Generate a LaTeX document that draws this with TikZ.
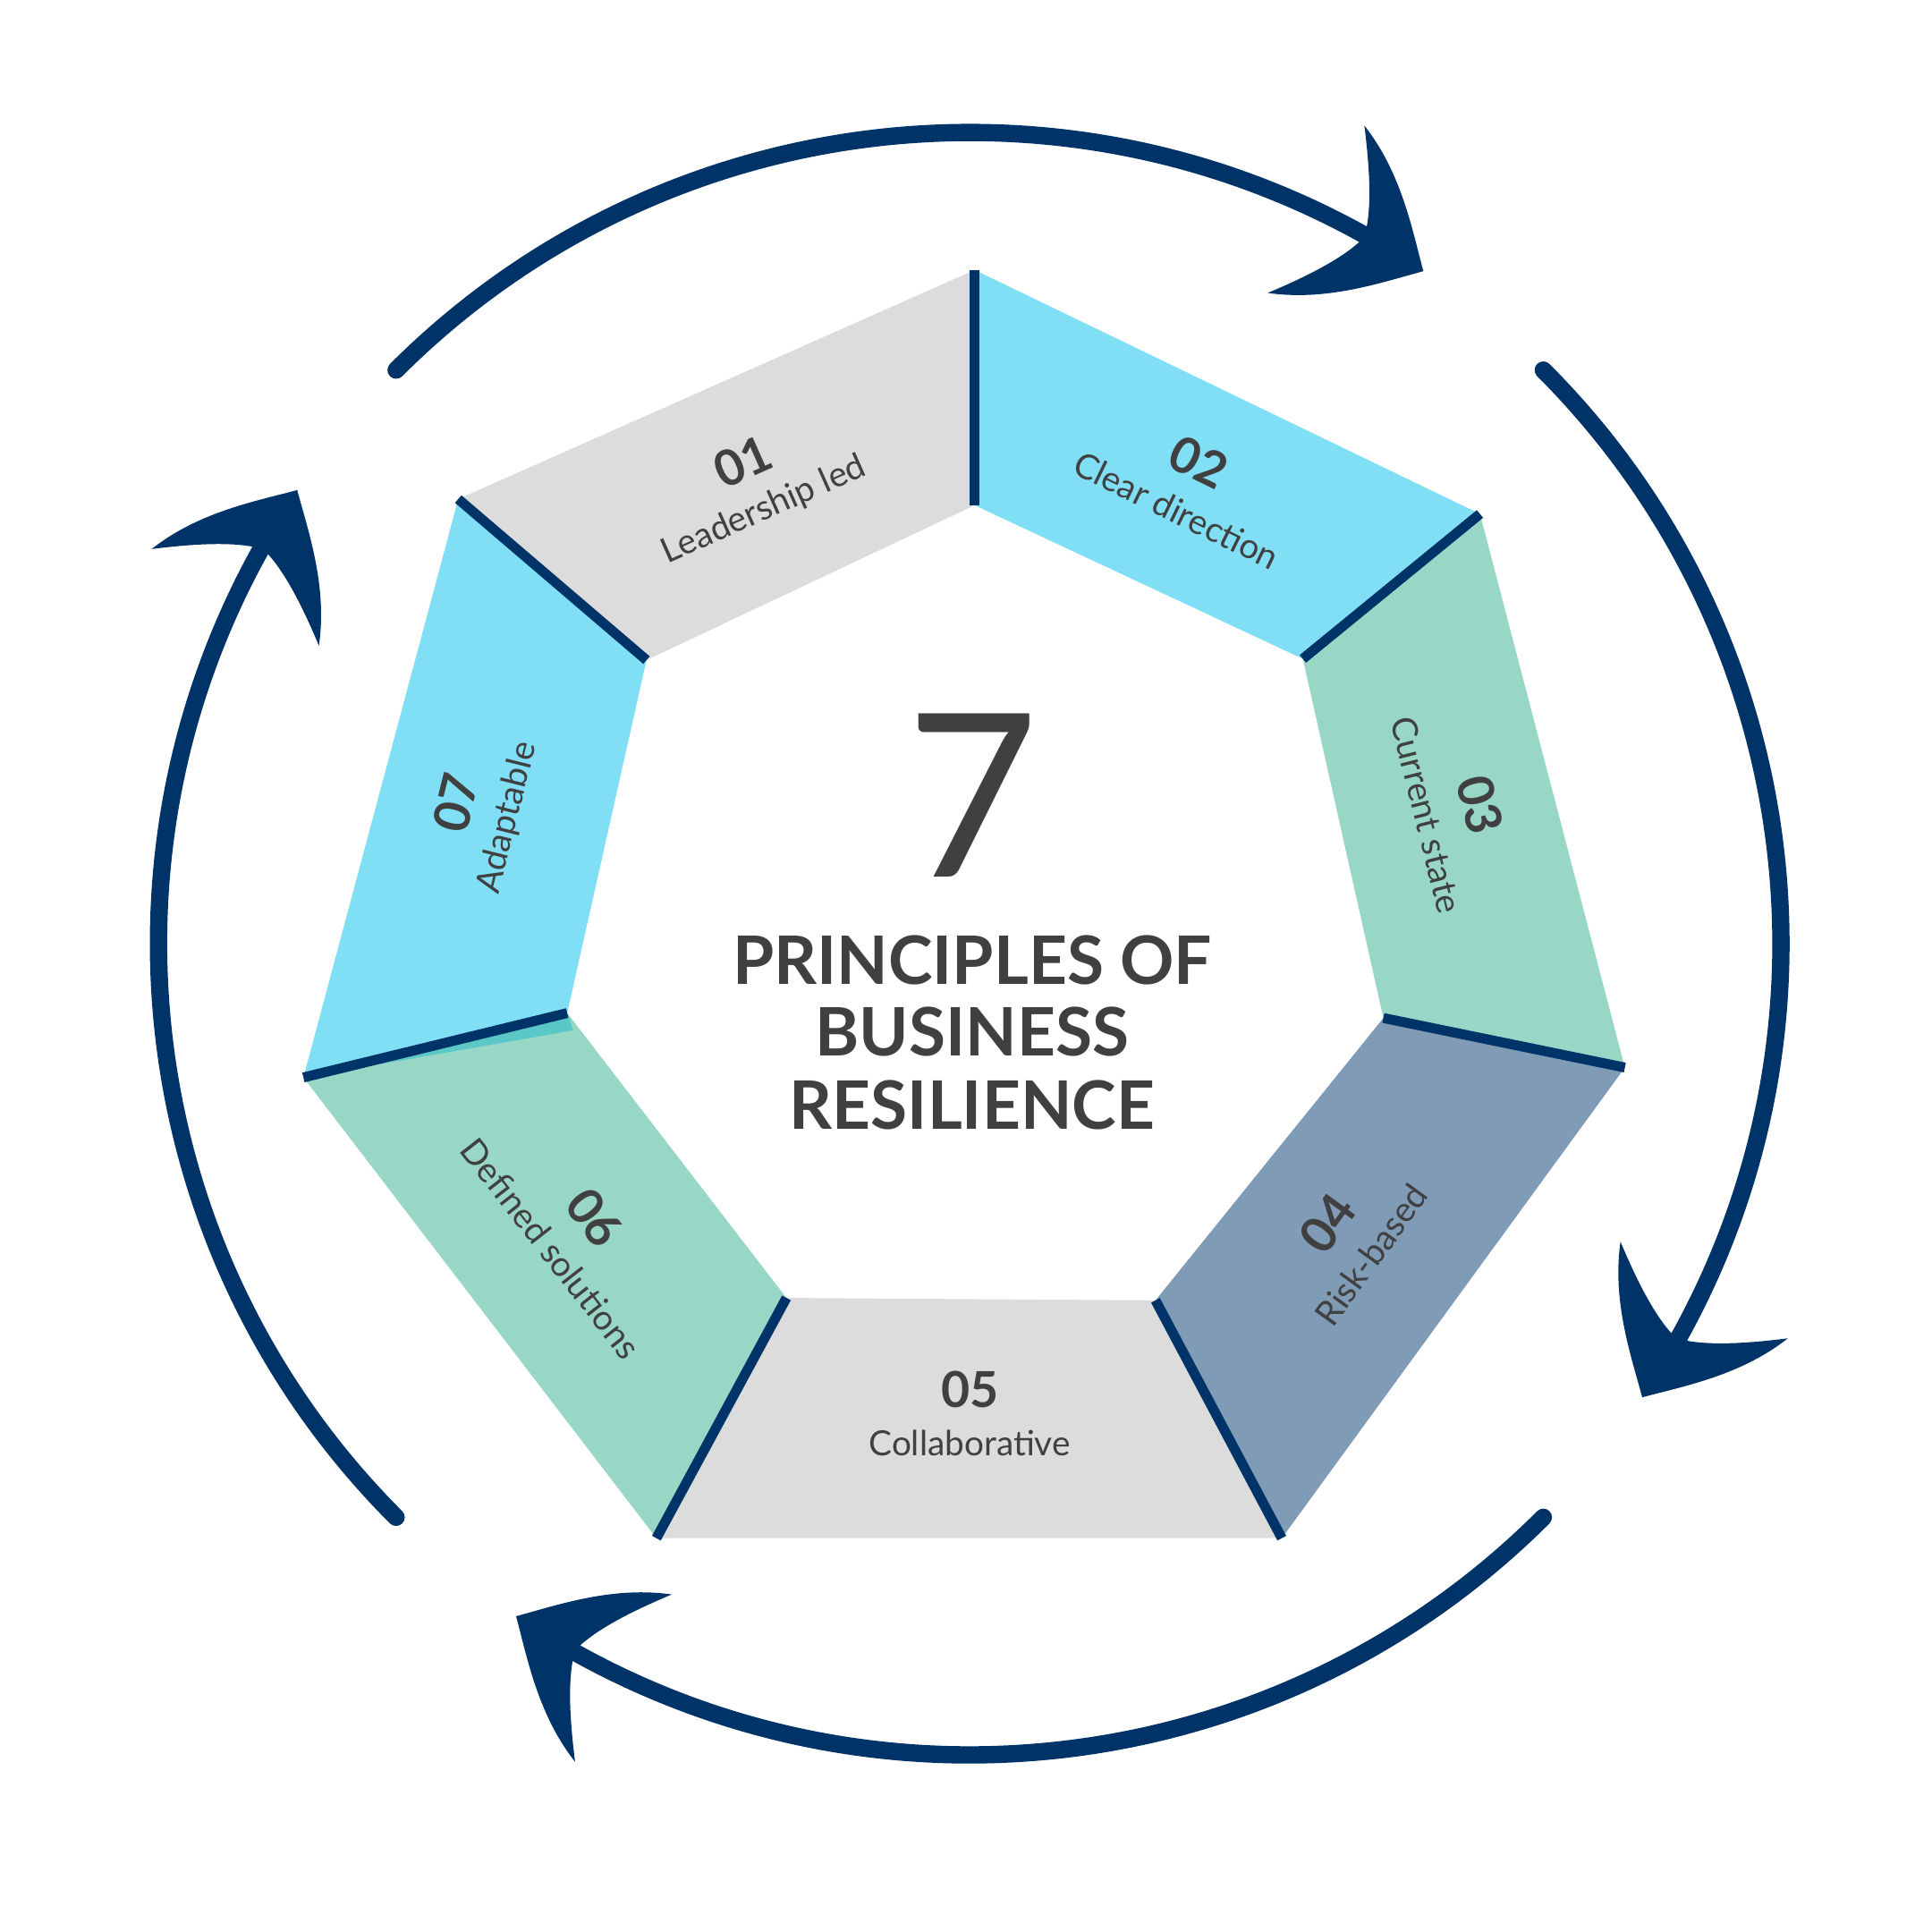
\documentclass[tikz,border=0pt]{standalone}
\usepackage{fontspec}
\setmainfont{Lato}
\usetikzlibrary{calc}
\begin{document}
\begin{tikzpicture}[x=0.5pt,y=0.5pt]
\definecolor{navy}{HTML}{003469}
\definecolor{segg}{HTML}{DCDCDC}
\definecolor{segb}{HTML}{80DEF5}
\definecolor{segt}{HTML}{98D6C6}
\definecolor{segs}{HTML}{809BB6}
\definecolor{teal}{HTML}{5BC8C8}
\definecolor{txt}{HTML}{404040}
\tikzset{divider/.style={navy,line width=4pt},
 ring/.style={navy,line width=7pt,line cap=round},
 num/.style={txt,font=\fontsize{20}{22}\selectfont\bfseries},
 lbl/.style={txt,font=\fontsize{14}{16}\selectfont},
 head/.style={fill=navy}}
\useasboundingbox (0,0) rectangle (1560,1560);
\coordinate (C) at (783,798);
\coordinate (O1) at (787,1342); \coordinate (O2) at (1195,1145);
\coordinate (O3) at (1312,698); \coordinate (O4) at (1035,318);
\coordinate (O5) at (530,318); \coordinate (O6) at (245,690);
\coordinate (O7) at (370,1157);
\coordinate (I1) at (787,1152); \coordinate (I2) at (1052,1028);
\coordinate (I3) at (1117,738); \coordinate (I4) at (933,510);
\coordinate (I5) at (635,512); \coordinate (I6) at (458,742);
\coordinate (I7) at (522,1027);
\fill[segg] (O7)--(O1)--(I1)--(I7)--cycle;
\fill[segb] (O1)--(O2)--(I2)--(I1)--cycle;
\fill[segt] (O2)--(O3)--(I3)--(I2)--cycle;
\fill[segs] (O3)--(O4)--(I4)--(I3)--cycle;
\fill[segg] (O4)--(O5)--(I5)--(I4)--cycle;
\fill[segt] (O5)--(O6)--(I6)--(I5)--cycle;
\fill[segb] (O6)--(O7)--(I7)--(I6)--cycle;
\fill[teal] (O6)--(I6)--(463,728)--cycle;
\draw[divider] (O1)--(I1); \draw[divider] (O2)--(I2);
\draw[divider] (O3)--(I3); \draw[divider] (O4)--(I4);
\draw[divider] (O5)--(I5); \draw[divider] (O6)--(I6);
\draw[divider] (O7)--(I7);
% ring arcs
\foreach \s in {135,45,-45,-135}{
  \draw[ring] ($(C)+(\s:655)$) arc[start angle=\s,end angle=\s-76,radius=655];
  \pgfmathsetmacro\t{\s-79}
  \pgfmathsetmacro\r{\t-86}
  \begin{scope}[shift={($(C)+(\t:655)$)},rotate=\r]
   \fill[head] (0,0) .. controls (-25,25) and (-55,60) .. (-100,78)
     .. controls (-75,45) and (-60,20) .. (-55,0)
     .. controls (-60,-20) and (-75,-45) .. (-100,-78)
     .. controls (-55,-60) and (-25,-25) .. (0,0);
  \end{scope}
}
% labels
\node[num,rotate=24] (n1) at (600,1187) {01};
\node[lbl,rotate=24] (t1) at (617,1148) {Leadership led};
\node[num,rotate=-26] (n2) at (968,1187) {02};
\node[lbl,rotate=-26] (t2) at (950,1148) {Clear direction};
\node[num,rotate=-76] (n3) at (1195,910) {03};
\node[lbl,rotate=-76] (t3) at (1152,902) {Current state};
\node[num,rotate=54] (n4) at (1072,572) {04};
\node[lbl,rotate=54] (t4) at (1107,547) {Risk-based};
\node[num] (n5) at (783,438) {05};
\node[lbl] (t5) at (783,395) {Collaborative};
\node[num,rotate=-52] (n6) at (480,577) {06};
\node[lbl,rotate=-52] (t6) at (445,552) {Defined solutions};
\node[num,rotate=76] (n7) at (368,912) {07};
\node[lbl,rotate=76] (t7) at (410,900) {Adaptable};
\node[txt,font=\fontsize{92}{96}\selectfont] (seven) at (785,918) {7};
\node[txt,font=\fontsize{27}{30}\selectfont\bfseries] (h1) at (785,785) {PRINCIPLES OF};
\node[txt,font=\fontsize{27}{30}\selectfont\bfseries] (h2) at (785,727) {BUSINESS};
\node[txt,font=\fontsize{27}{30}\selectfont\bfseries] (h3) at (785,668) {RESILIENCE};
\end{tikzpicture}
\end{document}
